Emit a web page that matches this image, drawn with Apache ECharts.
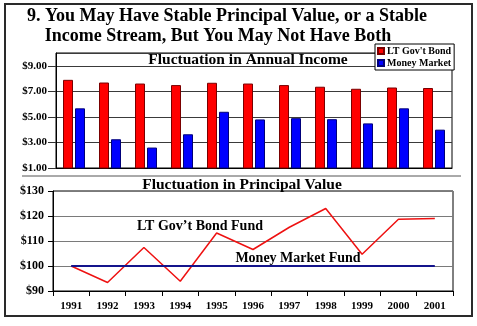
<!DOCTYPE html>
<html>
<head>
<meta charset="utf-8">
<script src="https://cdn.jsdelivr.net/npm/echarts@6/dist/echarts.min.js"></script>
<style>
  html, body { margin: 0; padding: 0; background: #ffffff; }
  #chart { width: 477px; height: 326px; }
</style>
</head>
<body>
<div id="chart"></div>
<script>
// Years shared by both panels
const years = ['1991', '1992', '1993', '1994', '1995', '1996', '1997', '1998', '1999', '2000', '2001'];

// Annual income per $100 invested
const bondIncome = [7.90, 7.69, 7.61, 7.49, 7.67, 7.61, 7.49, 7.36, 7.20, 7.30, 7.26];
const moneyIncome = [5.67, 3.25, 2.60, 3.64, 5.40, 4.80, 4.90, 4.82, 4.49, 5.67, 4.00];

// Principal value of $100
const bondPrincipal = [100, 93.4, 107.4, 93.9, 113.2, 106.6, 115.5, 123.0, 104.7, 118.7, 119.0];
const moneyPrincipal = [100, 100, 100, 100, 100, 100, 100, 100, 100, 100, 100];

const titleLines = [
  '9. You May Have Stable Principal Value, or a Stable',
  'Income Stream, But You May Not Have Both'
];

const serif = '"Liberation Serif", "Times New Roman", serif';
const chart = echarts.init(document.getElementById('chart'), null, { renderer: 'canvas' });

const boldText = (size) => ({ fontFamily: serif, fontWeight: 'bold', fontSize: size, color: '#000' });

chart.setOption({
  backgroundColor: '#ffffff',
  animation: false,
  title: [
    { text: 'Fluctuation in Annual Income', left: 243, top: 47, textAlign: 'center',
      textStyle: boldText(15.5) },
    { text: 'Fluctuation in Principal Value', left: 237, top: 172, textAlign: 'center',
      textStyle: boldText(15.5) }
  ],
  legend: {
    data: ['LT Gov\'t Bond', 'Money Market'],
    orient: 'vertical',
    left: 375, top: 44,
    padding: [2, 3, 2, 2],
    itemGap: 2,
    itemWidth: 6, itemHeight: 6,
    icon: 'rect',
    backgroundColor: '#ffffff',
    borderColor: '#000',
    borderWidth: 1,
    textStyle: Object.assign(boldText(10), { padding: [0, 0, 0, -2] })
  },
  grid: [
    { left: 56, right: 25, top: 53, bottom: 158, show: true, borderColor: '#000', borderWidth: 1,
      backgroundColor: '#fff' },
    { left: 53, right: 24, top: 191, bottom: 35, show: true, borderColor: '#000', borderWidth: 1,
      backgroundColor: '#fff' }
  ],
  xAxis: [
    { type: 'category', gridIndex: 0, data: years,
      axisLine: { lineStyle: { color: '#000', width: 1 } },
      axisTick: { show: false }, axisLabel: { show: false } },
    { type: 'category', gridIndex: 1, data: years, boundaryGap: true,
      axisLine: { lineStyle: { color: '#000', width: 1 } },
      axisTick: { show: true, length: 5, lineStyle: { color: '#000' } },
      axisLabel: Object.assign(boldText(11), { margin: 10 }) }
  ],
  yAxis: [
    { type: 'value', gridIndex: 0, min: 1, max: 10, interval: 2,
      axisLine: { show: true, lineStyle: { color: '#000' } },
      axisTick: { show: true, length: 8, lineStyle: { color: '#333' } },
      axisLabel: Object.assign(boldText(11), { margin: 9, showMaxLabel: false,
        formatter: (v) => '$' + v.toFixed(2) }),
      splitLine: { lineStyle: { color: '#3a3a3a', width: 1 } } },
    { type: 'value', gridIndex: 1, min: 90, max: 130, interval: 10,
      axisLine: { show: true, lineStyle: { color: '#000' } },
      axisTick: { show: true, length: 5, lineStyle: { color: '#000' } },
      axisLabel: Object.assign(boldText(12), { margin: 9, formatter: (v) => '$' + v }),
      splitLine: { lineStyle: { color: '#7a7a7a', width: 1 } } }
  ],
  series: [
    { name: 'LT Gov\'t Bond', type: 'bar', xAxisIndex: 0, yAxisIndex: 0, data: bondIncome,
      barWidth: 10, barGap: '20%',
      itemStyle: { color: '#ff0000', borderColor: '#7a0000', borderWidth: 1 } },
    { name: 'Money Market', type: 'bar', xAxisIndex: 0, yAxisIndex: 0, data: moneyIncome,
      barWidth: 10,
      itemStyle: { color: '#0000ff', borderColor: '#00007a', borderWidth: 1 } },
    { name: 'LT Gov\'t Bond Fund', type: 'line', xAxisIndex: 1, yAxisIndex: 1, data: bondPrincipal,
      symbol: 'none', lineStyle: { color: '#ee1111', width: 1.5 } },
    { name: 'Money Market Fund', type: 'line', xAxisIndex: 1, yAxisIndex: 1, data: moneyPrincipal,
      symbol: 'none', lineStyle: { color: '#14148c', width: 2 } }
  ],
  graphic: [
    { type: 'rect', shape: { x: 5, y: 4, width: 467, height: 312 },
      style: { fill: 'none', stroke: '#2a2a2a', lineWidth: 2 }, z: 10 },
    { type: 'line', shape: { x1: 22, y1: 176, x2: 461, y2: 176 },
      style: { stroke: '#555', lineWidth: 1 }, z: 10 },
    { type: 'text', x: 227, y: 25, z: 10,
      style: { text: titleLines[0], font: 'bold 18px ' + serif, textAlign: 'center',
        textVerticalAlign: 'bottom', fill: '#000' } },
    { type: 'text', x: 218, y: 45, z: 10,
      style: { text: titleLines[1], font: 'bold 18px ' + serif, textAlign: 'center',
        textVerticalAlign: 'bottom', fill: '#000' } },
    { type: 'text', x: 200, y: 226, z: 10,
      style: { text: 'LT Gov\u2019t Bond Fund', font: 'bold 14px ' + serif, textAlign: 'center',
        textVerticalAlign: 'middle', fill: '#000' } },
    { type: 'text', x: 298, y: 258, z: 10,
      style: { text: 'Money Market Fund', font: 'bold 14px ' + serif, textAlign: 'center',
        textVerticalAlign: 'middle', fill: '#000' } }
  ]
});
</script>
</body>
</html>
